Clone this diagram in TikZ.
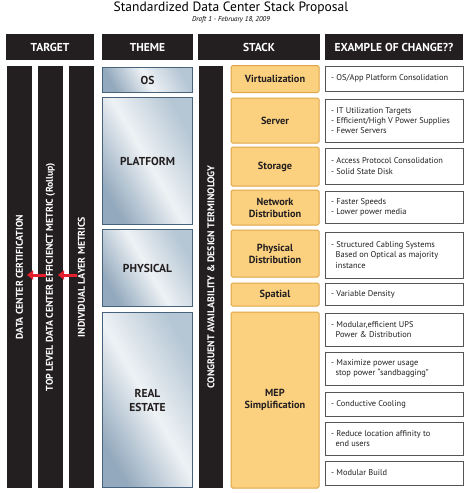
\documentclass[tikz,border=0pt]{standalone}
\usepackage{fontspec}
\setmainfont{PT Sans}
\usetikzlibrary{arrows.meta}
\definecolor{barblack}{HTML}{231F20}
\definecolor{orfill}{HTML}{FBD07F}
\definecolor{ordraw}{HTML}{DFA547}
\definecolor{thborder}{HTML}{46637D}
\definecolor{thdark}{HTML}{93A9BD}
\definecolor{thlight}{HTML}{EEF2F5}
\definecolor{thmid}{HTML}{B5C6D4}
\definecolor{exdraw}{HTML}{555555}
\definecolor{arrred}{HTML}{E3202B}
\tikzset{
  boxbase/.style={anchor=north west, inner sep=0pt, outer sep=0pt},
  header/.style={boxbase, fill=barblack, text=white, font=\bfseries\fontsize{11.5}{13}\selectfont},
  bar/.style={boxbase, fill=barblack},
  bartext/.style={rotate=90, text=white, font=\bfseries\fontsize{9.8}{11}\selectfont, inner sep=0pt},
  theme/.style={boxbase, draw=thborder, line width=1.6pt, left color=thdark, right color=thmid, middle color=thlight, shading angle=120, text=barblack, font=\bfseries\fontsize{11.5}{14}\selectfont, align=center},
  stackbox/.style={boxbase, draw=ordraw, fill=orfill, line width=1pt, rounded corners=1.5pt, text=barblack, font=\bfseries\fontsize{10.3}{12}\selectfont, align=center},
  exbox/.style={boxbase, draw=exdraw, fill=white, line width=0.8pt},
  extext/.style={anchor=west, inner sep=0pt, align=left, text=barblack, font=\fontsize{8.4}{10.2}\selectfont},
  redarrow/.style={draw=arrred, line width=3pt, -{Triangle[length=6pt,width=9pt]}}
}
\begin{document}
\begin{tikzpicture}[x=1pt,y=-1pt]
\useasboundingbox (0,0) rectangle (470,493);
% title
\node[inner sep=0pt, font=\fontsize{13.5}{15}\selectfont] (title) at (231,8.5) {Standardized Data Center Stack Proposal};
\node[inner sep=0pt, font=\itshape\fontsize{7}{8}\selectfont] (draft) at (231,19.5) {Draft 1 - February 18, 2009};
% headers
\node[header, minimum width=88pt, minimum height=26pt] (hTarget) at (6,34) {TARGET};
\node[header, minimum width=91pt, minimum height=26pt] (hTheme) at (102,34) {THEME};
\node[header, minimum width=122pt, minimum height=26pt] (hStack) at (198,34) {STACK};
\node[header, minimum width=138pt, minimum height=26pt] (hEx) at (325,34) {EXAMPLE OF CHANGE??};
% target bars
\node[bar, minimum width=25pt, minimum height=422pt] (b1) at (7,66) {};
\node[bar, minimum width=25pt, minimum height=422pt] (b2) at (38,66) {};
\node[bar, minimum width=25pt, minimum height=422pt] (b3) at (69,66) {};
\node[bar, minimum width=24pt, minimum height=422pt] (bC) at (199,66) {};
\node[bartext] (t1) at (19.5,277) {DATA CENTER CERTIFICATION};
\node[bartext] (t2) at (50.5,277) {TOP LEVEL DATA CENTER EFFICIENCT METRIC (Rollup)};
\node[bartext] (t3) at (81.5,277) {INDIVIDUAL LAYER METRICS};
\node[bartext] (tC) at (211,277) {CONGRUENT AVAILABILITY \& DESIGN TERMINOLOGY};
% arrows
\coordinate (a1s) at (46,275);
\coordinate (a1e) at (27,275);
\coordinate (a2s) at (77,275);
\coordinate (a2e) at (58,275);
\draw[redarrow] (a1s) -- (a1e);
\draw[redarrow] (a2s) -- (a2e);
% theme
\node[theme, minimum width=90pt, minimum height=25pt] (os) at (102.5,67.5) {OS};
\node[theme, minimum width=90pt, minimum height=127pt] (platform) at (102.5,97.5) {PLATFORM};
\node[theme, minimum width=90pt, minimum height=77pt] (physical) at (102.5,229.5) {PHYSICAL};
\node[theme, minimum width=90pt, minimum height=175pt] (realestate) at (102.5,312.5) {REAL\\ESTATE};
% stack
\node[stackbox, minimum width=88pt, minimum height=27pt] (virt) at (231,65.5) {Virtualization};
\node[stackbox, minimum width=88pt, minimum height=45pt] (server) at (231,98) {Server};
\node[stackbox, minimum width=88pt, minimum height=39pt] (storage) at (231,147) {Storage};
\node[stackbox, minimum width=88pt, minimum height=35pt] (network) at (231,190) {Network\\Distribution};
\node[stackbox, minimum width=88pt, minimum height=47pt] (physdist) at (231,230) {Physical\\Distribution};
\node[stackbox, minimum width=88pt, minimum height=23pt] (spatial) at (231,283) {Spatial};
\node[stackbox, minimum width=88pt, minimum height=176pt] (mep) at (231,312) {MEP\\Simplification};
% examples
\node[exbox, minimum width=138pt, minimum height=25pt] (e1) at (325,66) {};
\node[exbox, minimum width=138pt, minimum height=43pt] (e2) at (325,99) {};
\node[exbox, minimum width=138pt, minimum height=36pt] (e3) at (325,148) {};
\node[exbox, minimum width=138pt, minimum height=32pt] (e4) at (325,191) {};
\node[exbox, minimum width=138pt, minimum height=46pt] (e5) at (325,232) {};
\node[exbox, minimum width=138pt, minimum height=22pt] (e6) at (325,283) {};
\node[exbox, minimum width=138pt, minimum height=33pt] (e7) at (325,313) {};
\node[exbox, minimum width=138pt, minimum height=33pt] (e8) at (325,352) {};
\node[exbox, minimum width=138pt, minimum height=24pt] (e9) at (325,392) {};
\node[exbox, minimum width=138pt, minimum height=33pt] (e10) at (325,422) {};
\node[exbox, minimum width=138pt, minimum height=24pt] (e11) at (325,461) {};
\node[extext] (x1) at ([xshift=6pt]e1.west) {- OS/App Platform Consolidation};
\node[extext] (x2) at ([xshift=6pt]e2.west) {- IT Utilization Targets\\- Efficient/High V Power Supplies\\- Fewer Servers};
\node[extext] (x3) at ([xshift=6pt]e3.west) {- Access Protocol Consolidation\\- Solid State Disk};
\node[extext] (x4) at ([xshift=6pt]e4.west) {- Faster Speeds\\- Lower power media};
\node[extext] (x5) at ([xshift=6pt]e5.west) {- Structured Cabling Systems\\\ \ Based on Optical as majority\\\ \ instance};
\node[extext] (x6) at ([xshift=6pt]e6.west) {- Variable Density};
\node[extext] (x7) at ([xshift=6pt]e7.west) {- Modular,efficient UPS\\\ \ Power \& Distribution};
\node[extext] (x8) at ([xshift=6pt]e8.west) {- Maximize power usage\\\ \ stop power ``sandbagging''};
\node[extext] (x9) at ([xshift=6pt]e9.west) {- Conductive Cooling};
\node[extext] (x10) at ([xshift=6pt]e10.west) {- Reduce location affinity to\\\ \ end users};
\node[extext] (x11) at ([xshift=6pt]e11.west) {- Modular Build};
\end{tikzpicture}
\end{document}
